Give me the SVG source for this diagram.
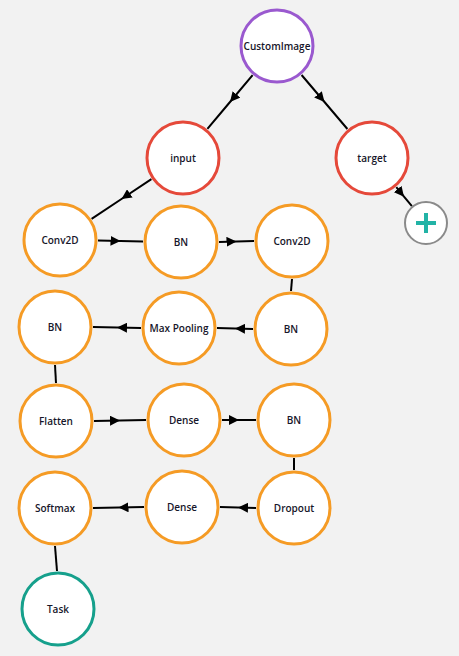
<svg xmlns="http://www.w3.org/2000/svg" width="459" height="656" viewBox="0 0 459 656">
<style>
.n{fill:#fff;stroke-width:3}
.o{stroke:#f59b25}
.r{stroke:#e5493a}
.p{stroke:#9a59cf}
.t{stroke:#16a08c}
.g{stroke:#8a8a8a;stroke-width:2}
text{font-family:"Open Sans","Noto Sans",sans-serif;font-size:10px;font-weight:600;fill:#16162a;text-anchor:middle;dominant-baseline:central}
.e{fill:none;stroke:#000;stroke-width:2}
.a{marker-mid:url(#arr)}
</style>
<defs>
<marker id="arr" viewBox="0 0 10 10" refX="10" refY="5" markerWidth="10" markerHeight="10" markerUnits="userSpaceOnUse" orient="auto">
<path d="M0,0 L10,5 L0,10 z" fill="#000"/>
</marker>
</defs>
<rect width="459" height="656" fill="#f2f2f2"/>
<g id="connectors">
<polyline class="e a" points="252.6,75.1 230,102 207.4,128.9"/>
<polyline class="e a" points="301.6,75 324.5,102 347.4,129"/>
<polyline class="e a" points="151.4,179.1 121.5,199 91.6,218.9"/>
<polyline class="e a" points="396.3,187.2 404,196.7 411.9,206.1"/>
<polyline class="e a" points="98,240.6 120.5,241 143,241.4"/>
<polyline class="e a" points="219,242 236.5,241.5 254,241"/>
<line class="e" x1="292" y1="279" x2="291" y2="291"/>
<polyline class="e a" points="253,329 235,328.5 217,328"/>
<polyline class="e a" points="141,328 117,327.5 93,327"/>
<line class="e" x1="55" y1="365" x2="56" y2="383"/>
<polyline class="e a" points="94,421 120,420.5 146,420"/>
<polyline class="e a" points="222,420 239,420 256,420"/>
<line class="e" x1="294" y1="458" x2="294" y2="470"/>
<polyline class="e a" points="256,508 238,507.5 220,507"/>
<polyline class="e a" points="144,507 118.5,507.5 93,508"/>
<line class="e" x1="55" y1="546" x2="57" y2="571"/>
</g>
<g id="node-customimage"><circle class="n p" cx="277" cy="46" r="36"/><text x="277" y="46">CustomImage</text></g>
<g id="node-input"><circle class="n r" cx="183" cy="158" r="36"/><text x="183" y="158">input</text></g>
<g id="node-target"><circle class="n r" cx="372" cy="158" r="36"/><text x="372" y="158">target</text></g>
<g id="node-add"><circle class="n g" cx="426" cy="223" r="21"/><path d="M416,223 H436 M426,213 V233" stroke="#22b3a6" stroke-width="4" fill="none"/></g>
<g id="node-conv2d-1"><circle class="n o" cx="60" cy="240" r="36"/><text x="60" y="240">Conv2D</text></g>
<g id="node-bn-1"><circle class="n o" cx="181" cy="242" r="36"/><text x="181" y="242">BN</text></g>
<g id="node-conv2d-2"><circle class="n o" cx="292" cy="241" r="36"/><text x="292" y="241">Conv2D</text></g>
<g id="node-bn-2"><circle class="n o" cx="291" cy="329" r="36"/><text x="291" y="329">BN</text></g>
<g id="node-maxpool"><circle class="n o" cx="179" cy="328" r="36"/><text x="179" y="328">Max Pooling</text></g>
<g id="node-bn-3"><circle class="n o" cx="55" cy="327" r="36"/><text x="55" y="327">BN</text></g>
<g id="node-flatten"><circle class="n o" cx="56" cy="421" r="36"/><text x="56" y="421">Flatten</text></g>
<g id="node-dense-1"><circle class="n o" cx="184" cy="420" r="36"/><text x="184" y="420">Dense</text></g>
<g id="node-bn-4"><circle class="n o" cx="294" cy="420" r="36"/><text x="294" y="420">BN</text></g>
<g id="node-dropout"><circle class="n o" cx="294" cy="508" r="36"/><text x="294" y="508">Dropout</text></g>
<g id="node-dense-2"><circle class="n o" cx="182" cy="507" r="36"/><text x="182" y="507">Dense</text></g>
<g id="node-softmax"><circle class="n o" cx="55" cy="508" r="36"/><text x="55" y="508">Softmax</text></g>
<g id="node-task"><circle class="n t" cx="58" cy="609" r="36"/><text x="58" y="609">Task</text></g>
</svg>
